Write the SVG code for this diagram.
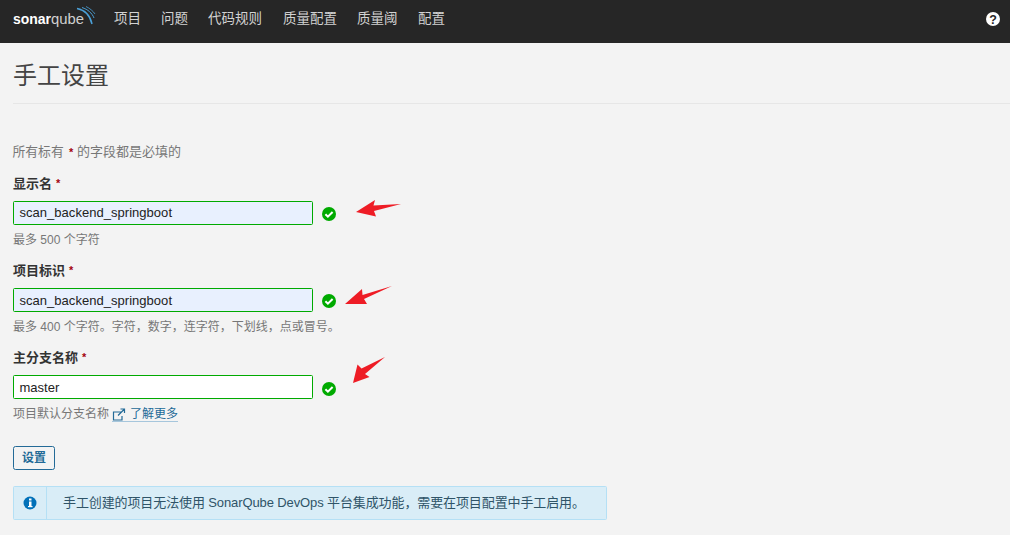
<svg xmlns="http://www.w3.org/2000/svg" width="1010" height="535" viewBox="0 0 1010 535">
<style>
text{font-family:"Liberation Sans","Noto Sans CJK SC",sans-serif}
.nav{font-size:13.500px;fill:#d2d2d2}
.lab{font-size:13px;font-weight:700;fill:#333}
.star{font-size:11px;font-weight:700;fill:#a4030f}
.note{font-size:12px;fill:#777}
.inp{fill:#e8f0fe;stroke:#00aa00;stroke-width:1}
.val{font-size:13px;fill:#222}
.arrow{fill:#ee1c25}
</style>
<defs>
<g id="ok"><circle r="7" fill="#00aa00"/><path d="M-3.600 0.200L-1.100 2.700L3.600-2" fill="none" stroke="#fff" stroke-width="2"/></g>
</defs>
<rect width="1010" height="535" fill="#f3f3f3"/>
<g id="navbar">
<rect width="1010" height="43" fill="#262626"/>
<g id="logo">
<text x="13" y="24" font-size="15" font-weight="700" fill="#fff" textLength="38" lengthAdjust="spacingAndGlyphs">sonar</text>
<text x="51" y="24" font-size="15" fill="#d0d0d0" textLength="33" lengthAdjust="spacingAndGlyphs">qube</text>
<path d="M77 8.500C85 10 90 15 92 24" fill="none" stroke="#4b9fd5" stroke-width="1.500"/>
<path d="M82 7.500C88 9.500 92 13 94 18" fill="none" stroke="#4b9fd5" stroke-width="1"/>
<path d="M86 6.500C90 8.500 93 11 95 14" fill="none" stroke="#4b9fd5" stroke-width="0.800"/>
</g>
<text class="nav" x="114" y="23">项目</text>
<text class="nav" x="161" y="23">问题</text>
<text class="nav" x="208" y="23">代码规则</text>
<text class="nav" x="283" y="23">质量配置</text>
<text class="nav" x="357" y="23">质量阈</text>
<text class="nav" x="418" y="23">配置</text>
<g id="help"><circle cx="993" cy="19" r="7" fill="#fff"/><text x="993" y="23.500" font-size="12.500" font-weight="700" fill="#262626" text-anchor="middle">?</text></g>
</g>
<g id="header">
<text x="13" y="84" font-size="24" fill="#444">手工设置</text>
<rect x="13" y="103" width="997" height="1" fill="#e6e6e6"/>
</g>
<text x="12.500" y="156" font-size="12.800" fill="#777">所有标有</text>
<text class="star" x="69" y="156">*</text>
<text x="77" y="156" font-size="13" fill="#777">的字段都是必填的</text>
<g id="field-name">
<text class="lab" x="13" y="188">显示名</text><text class="star" x="56" y="187">*</text>
<rect class="inp" x="13.500" y="201.500" width="299" height="23" rx="1"/>
<text class="val" x="19.500" y="217" textLength="152.500">scan_backend_springboot</text>
<use href="#ok" x="329" y="214"/>
<text class="note" x="13" y="244">最多 500 个字符</text>
<path class="arrow" d="M356 212L375 200L373.500 205.500L401 204L374 211L376 216.500Z"/>
</g>
<g id="field-key">
<text class="lab" x="13" y="275">项目标识</text><text class="star" x="69" y="274">*</text>
<rect class="inp" x="13.500" y="288.500" width="299" height="23" rx="1"/>
<text class="val" x="19.500" y="305" textLength="152.500">scan_backend_springboot</text>
<use href="#ok" x="329" y="301"/>
<text class="note" x="13" y="331">最多 400 个字符。字符，数字，连字符，下划线，点或冒号。</text>
<path class="arrow" d="M345 304L362 289L362.500 295L392 286L364 299L367 304Z"/>
</g>
<g id="field-branch">
<text class="lab" x="13" y="362">主分支名称</text><text class="star" x="82" y="361">*</text>
<rect x="13.500" y="375.500" width="299" height="23" rx="1" fill="#fff" stroke="#00aa00"/>
<text class="val" x="19.500" y="392">master</text>
<use href="#ok" x="329" y="389"/>
<text class="note" x="13" y="418">项目默认分支名称</text>
<path d="M122 412H113.500V420H122V416M118 415.500L124 409.500M120.500 409H124.500V413" fill="none" stroke="#236a97" stroke-width="1.200"/>
<text x="130" y="418" font-size="12" fill="#236a97">了解更多</text>
<rect x="112" y="421" width="66" height="1" fill="#a6c6dc"/>
<path class="arrow" d="M353 383L357.500 364.500L361.500 368.500L385 357L365 374L369.500 377Z"/>
</g>
<g id="submit">
<rect x="13.500" y="446.500" width="41" height="23" rx="2" fill="#f3f3f3" stroke="#236a97"/>
<text x="34" y="462" font-size="12" font-weight="700" fill="#236a97" text-anchor="middle">设置</text>
</g>
<g id="alert">
<rect x="13.500" y="486.500" width="593" height="33" rx="1" fill="#d9edf7" stroke="#b5e0f5"/>
<rect x="46" y="487" width="1" height="32" fill="#b5e0f5"/>
<circle cx="30" cy="503" r="6.500" fill="#0271b9"/>
<rect x="29" y="501.500" width="2.500" height="5" fill="#fff"/><rect x="28" y="506" width="4.500" height="1.200" fill="#fff"/><rect x="29" y="498.500" width="2.500" height="2" fill="#fff"/>
<text x="63" y="507" font-size="13" fill="#2f5468" textLength="522">手工创建的项目无法使用 SonarQube DevOps 平台集成功能，需要在项目配置中手工启用。</text>
</g>
</svg>
